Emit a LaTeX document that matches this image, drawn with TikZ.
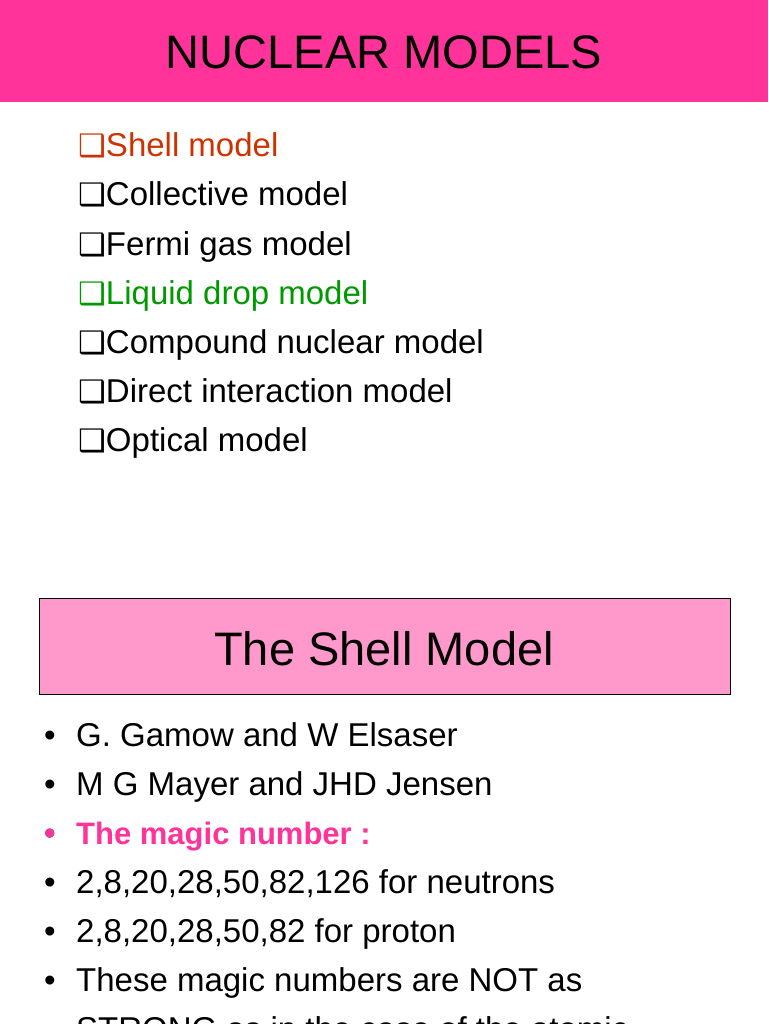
\documentclass[tikz,border=0pt]{standalone}
\usepackage{fontspec}
\setmainfont{Liberation Sans}
\newfontfamily\djfont{DejaVu Sans}
\definecolor{barpink}{HTML}{FF3399}
\definecolor{boxpink}{HTML}{FF99CC}
\definecolor{shellred}{HTML}{CC3300}
\definecolor{dropgreen}{HTML}{009900}
\tikzset{x=1pt,y=1pt,
 item/.style={anchor=base west,inner sep=0pt,font=\fontsize{33}{35}\selectfont},
 bul/.style={anchor=base west,inner sep=0pt,font=\fontsize{33}{35}\selectfont}}
\newcommand{\cbox}{{\djfont\fontsize{31}{33}\selectfont ❑}}
\begin{document}
\begin{tikzpicture}
\useasboundingbox (0,0) rectangle (768,-1024);
\fill[barpink] (0,0) rectangle (768,-102);
\node[inner sep=0pt,font=\fontsize{47}{49}\selectfont] (title) at (384,-52) {NUCLEAR MODELS};
\node[item,text=shellred] (i1) at (78,-157) {\cbox Shell model};
\node[item] (i2) at (78,-206) {\cbox Collective model};
\node[item] (i3) at (78,-255) {\cbox Fermi gas model};
\node[item,text=dropgreen] (i4) at (78,-304) {\cbox Liquid drop model};
\node[item] (i5) at (78,-353) {\cbox Compound nuclear model};
\node[item] (i6) at (78,-402) {\cbox Direct interaction model};
\node[item] (i7) at (78,-451) {\cbox Optical model};
\draw[fill=boxpink,line width=0.8pt] (39,-598) rectangle (730,-694);
\node[inner sep=0pt,font=\fontsize{47}{49}\selectfont] (st) at (384,-649) {The Shell Model};
\foreach \t/\y/\n in {G. Gamow and W Elsaser/746/b1, M G Mayer and JHD Jensen/795/b2,
 {2,8,20,28,50,82,126 for neutrons}/893/b4, {2,8,20,28,50,82 for proton}/942/b5,
 These magic numbers are NOT as/991/b6, STRONG as in the case of the atomic/1040/b7}
 \node[bul] (\n) at (76,-\y) {\t};
\node[bul,text=barpink,font=\fontsize{31}{33}\selectfont\bfseries] (b3) at (76,-844) {The magic number :};
\foreach \y in {746,795,844,893,942,991}
 \node[bul] at (44,-\y) {•};
\node[bul,text=barpink] at (44,-844) {•};
\end{tikzpicture}
\end{document}
